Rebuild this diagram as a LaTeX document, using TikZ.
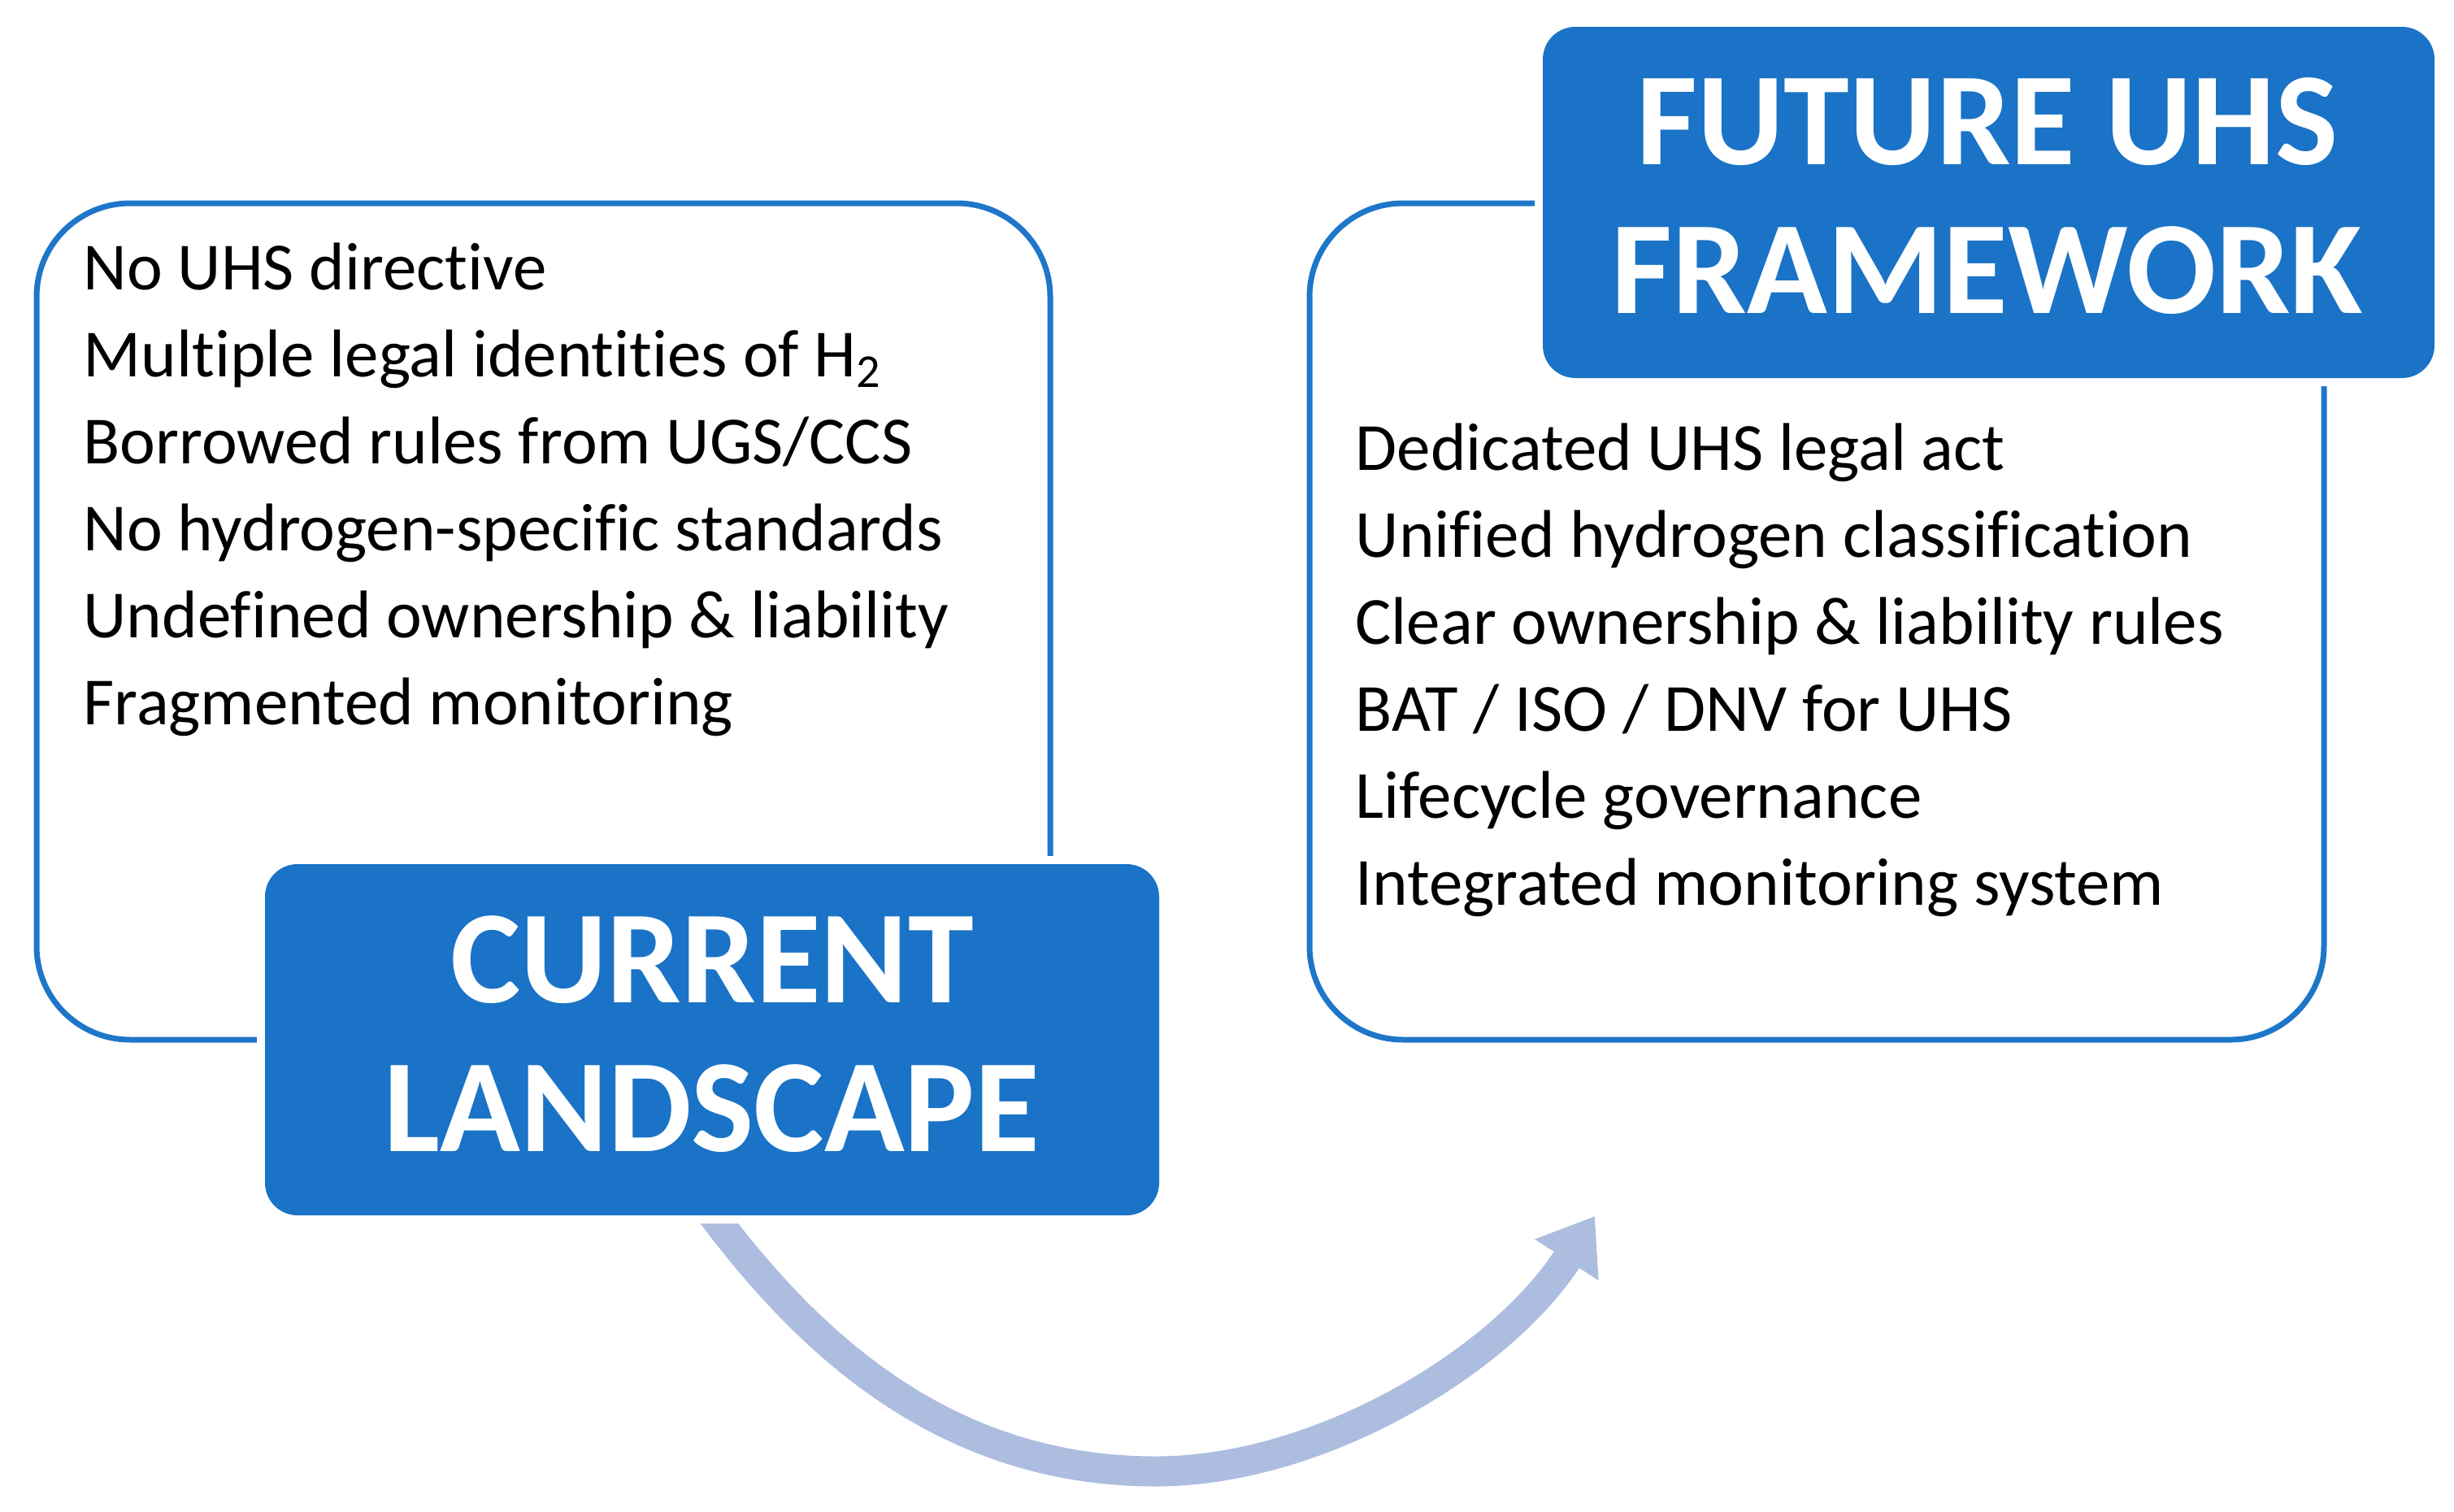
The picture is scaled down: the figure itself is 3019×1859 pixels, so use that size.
\documentclass[tikz,border=0pt]{standalone}
\usepackage{fontspec}
\setmainfont{Carlito}[Ligatures={NoCommon}]
\usetikzlibrary{arrows.meta}
\definecolor{boxblue}{HTML}{1A73C6}
\definecolor{lineblue}{HTML}{1E76C9}
\definecolor{arrowblue}{HTML}{ADBDDF}
\begin{document}
\begin{tikzpicture}[x=0.1mm,y=-0.1mm,
  framebox/.style={draw=lineblue, line width=0.7mm, rounded corners=11.5mm, inner sep=0pt},
  titlebox/.style={fill=boxblue, rounded corners=4mm, inner sep=0pt,
    preaction={draw=white, line width=2mm}},
  titletext/.style={text=white, align=center, inner sep=0pt,
    font=\fontsize{16.3mm}{18.3mm}\selectfont\bfseries},
  listtext/.style={anchor=base west, inner sep=0pt, text=black,
    font=\fontsize{8.3mm}{10.7mm}\selectfont},
  bigarrow/.style={draw=arrowblue, line width=3.7mm,
    -{Triangle[length=6.4mm,width=8.9mm]}}
]
\useasboundingbox (0,0) rectangle (3019,1859);

% outline frames
\node[framebox, minimum width=124.7mm, minimum height=102.9mm] (leftframe) at (668.5,764.5) {};
\node[framebox, minimum width=124.8mm, minimum height=102.9mm] (rightframe) at (2235,764.5) {};

% transition arrow
\coordinate (as) at (872,1488);
\coordinate (ae) at (1962,1496);
\draw[bigarrow] (as) .. controls (1003,1665) and (1172,1810) .. (1422,1810)
  .. controls (1622,1810) and (1846,1676) .. (ae);

% title boxes
\node[titlebox, minimum width=110mm, minimum height=43.2mm] (curbox) at (876,1279) {};
\node[titletext] (curtxt) at (876,1272) {CURRENT\\LANDSCAPE};
\node[titlebox, minimum width=109.7mm, minimum height=43.2mm] (futbox) at (2446.5,249) {};
\node[titletext] (futtxt) at (2445,241) {FUTURE UHS\\FRAMEWORK};

% lists
\foreach \t [count=\i] in {No UHS directive, Multiple legal identities of H\textsubscript{2},
  Borrowed rules from UGS/CCS, No hydrogen-specific standards,
  Undefined ownership \& liability, Fragmented monitoring}
  \node[listtext] (l\i) at (102,{356+107*(\i-1)}) {\t};
\foreach \t [count=\i] in {Dedicated UHS legal act, Unified hydrogen classification,
  Clear ownership \& liability rules, BAT / ISO / DNV for UHS,
  Lifecycle governance, Integrated monitoring system}
  \node[listtext] (r\i) at (1667,{578+107*(\i-1)}) {\t};
\end{tikzpicture}
\end{document}
